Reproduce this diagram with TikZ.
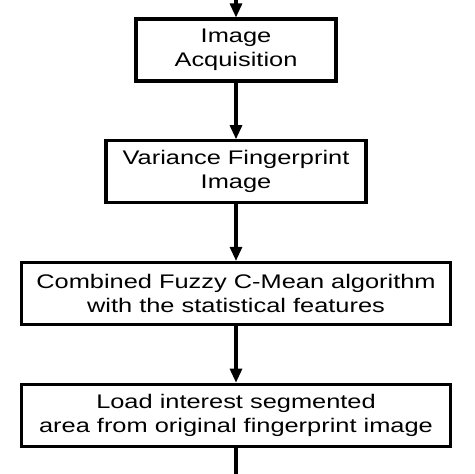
\documentclass[tikz,border=0pt]{standalone}
\usepackage{fontspec}
\setmainfont[FakeStretch=1.29]{Liberation Sans}
\usetikzlibrary{arrows.meta, positioning}

\begin{document}
\begin{tikzpicture}[
    x=0.03cm, y=-0.03cm,
    font=\fontsize{16.8}{20.6}\selectfont,
    node distance=1.7cm,
    tahap/.style={draw, line width=2.6pt, minimum height=1.86cm,
                  align=center, inner sep=2pt},
    panah/.style={line width=2.6pt,
                  -{Triangle[length=4.2mm, width=3.6mm]}}
  ]
    \useasboundingbox (0,0) rectangle (474,474);
    % Lebar kotak: 6,0; 7,8; 12,9; 12,9 (cm)
    \node[tahap, minimum width=6.0cm] (akuisisi) at (236,50)
      {Image\\Acquisition};
    \node[tahap, minimum width=7.8cm, below=of akuisisi] (varians)
      {Variance Fingerprint\\Image};
    \node[tahap, minimum width=12.85cm, below=of varians] (fcm)
      {Combined Fuzzy C-Mean algorithm\\with the statistical features};
    \node[tahap, minimum width=12.85cm, below=of fcm] (muat)
      {Load interest segmented\\area from original fingerprint image};
    \coordinate (masuk) at (236,-2);
    \coordinate (keluar) at (236,476);
    \draw[panah] (masuk) -- (akuisisi);
    \draw[panah] (akuisisi) -- (varians);
    \draw[panah] (varians) -- (fcm);
    \draw[panah] (fcm) -- (muat);
    \draw[line width=2.6pt] (muat) -- (keluar);
  \end{tikzpicture}
\end{document}
